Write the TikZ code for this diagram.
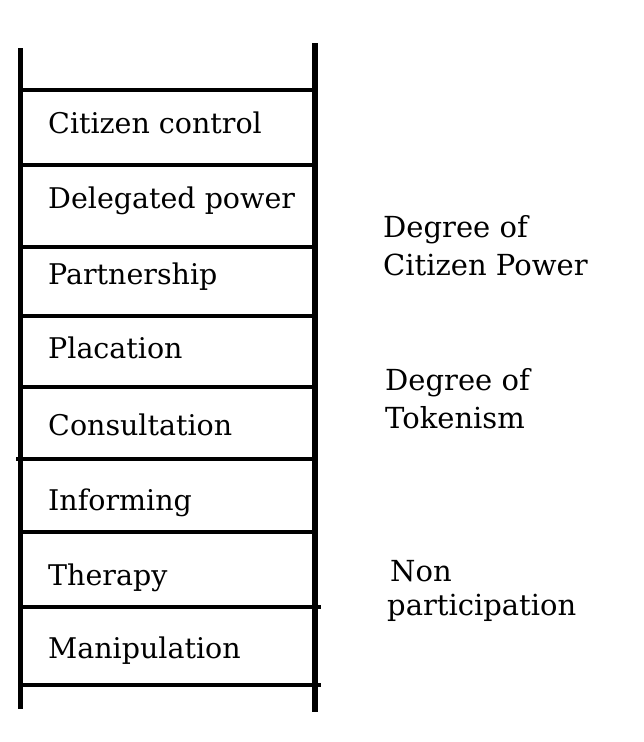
\documentclass[tikz,border=0pt]{standalone}
\usepackage{fontspec}
\setmainfont{DejaVu Serif}
\usetikzlibrary{positioning}

\tikzset{
  rail/.style={line width=5.5pt},
  rung/.style={line width=4.5pt},
  stage/.style={anchor=base west,inner sep=0pt,font=\fontsize{28.5}{34}\selectfont},
  band/.style={anchor=base west,inner sep=0pt,font=\fontsize{29}{34}\selectfont}
}

\begin{document}
\begin{tikzpicture}[x=1pt,y=-1pt]

% Canvas
\useasboundingbox (0,0) rectangle (644,742);

% Rails
\draw[rail] (20.5,48) -- (20.5,709);
\draw[rail] (315,43) -- (315,712);

% Rungs
\foreach \y in {90,165,247,316,387,532} {
    \draw[rung] (20.5,\y) -- (315,\y);
}
\draw[rung] (16,459) -- (315,459);
\draw[rung] (20.5,607) -- (321,607);
\draw[rung] (20.5,685) -- (321,685);

% Rungs' labels
\foreach \name/\txt/\y in {ctrl/Citizen control/133, deleg/Delegated power/208,
    partner/Partnership/284, placate/Placation/358, consult/Consultation/435,
    inform/Informing/510, therapy/Therapy/585, manip/Manipulation/658} {
    \node[stage] (\name) at (48,\y) {\txt};
}

% Degrees
\node[band] (power1) at (383,237) {Degree of};
\node[band] (power2) at (383,275) {Citizen Power};
\node[band] (token1) at (385,390) {Degree of};
\node[band] (token2) at (385,428) {Tokenism};
\node[band] (nonpart1) at (390,581) {Non};
\node[band] (nonpart2) at (387,615) {participation};

\end{tikzpicture}
\end{document}
